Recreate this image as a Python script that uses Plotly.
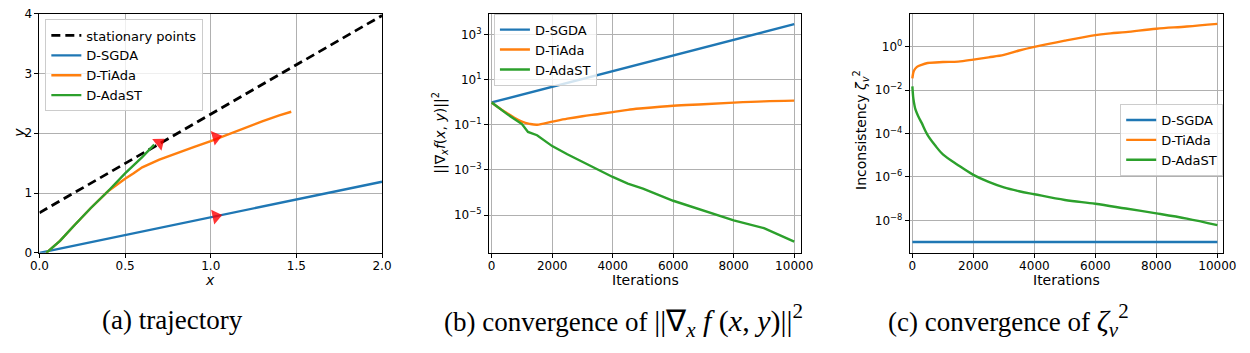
import plotly.graph_objects as go

# ---------------- data ----------------
# (a) trajectory
stat_x = [0.0, 2.0]
stat_y = [0.67, 3.97]
sgda_x = [0.0, 2.0]
sgda_y = [0.0, 1.19]
tiada_x = [0.04, 0.12, 0.2, 0.3, 0.4, 0.45, 0.5, 0.55, 0.6, 0.7, 0.8, 0.9, 1.0, 1.1, 1.2, 1.3, 1.4, 1.47]
tiada_y = [0.0, 0.2, 0.45, 0.75, 1.03, 1.14, 1.24, 1.33, 1.43, 1.56, 1.67, 1.77, 1.87, 1.98, 2.1, 2.2, 2.3, 2.36]
adast_x = [0.04, 0.12, 0.2, 0.3, 0.4, 0.5, 0.6, 0.67]
adast_y = [0.0, 0.2, 0.45, 0.75, 1.03, 1.33, 1.6, 1.81]
arrow_x = [0.70, 1.03, 1.03]
arrow_y = [1.84, 1.93, 0.61]

# (b) gradient norm
b_sgda_it = [0, 10000]
b_sgda = [1.0, 3000.0]
b_tiada_it = [0, 250, 500, 750, 1000, 1250, 1500, 2000, 2500, 3000, 3500, 4000, 4500, 5000, 6000, 7000, 8000, 9000, 10000]
b_tiada = [1.0, 0.56, 0.34, 0.21, 0.14, 0.112, 0.102, 0.14, 0.19, 0.245, 0.30, 0.37, 0.47, 0.55, 0.71, 0.83, 0.98, 1.12, 1.2]
b_adast_it = [0, 500, 1000, 1200, 1500, 2000, 2500, 3000, 3500, 4000, 4500, 5000, 6000, 7000, 8000, 9000, 10000]
b_adast = [1.0, 0.31, 0.11, 0.049, 0.035, 0.0115, 0.005, 0.0023, 0.00105, 0.00049, 0.00025, 0.000148, 4.3e-5, 1.6e-5, 5.8e-6, 2.6e-6, 6.6e-7]

# (c) inconsistency
c_sgda_it = [0, 10000]
c_sgda = [1e-9, 1e-9]
c_tiada_it = [0, 50, 150, 300, 500, 1000, 1500, 2000, 2500, 3000, 3500, 4000, 5000, 6000, 6500, 7000, 8000, 9000, 10000]
c_tiada = [0.035, 0.08, 0.12, 0.15, 0.18, 0.2, 0.21, 0.26, 0.33, 0.43, 0.68, 1.0, 1.95, 3.5, 4.2, 4.8, 6.9, 8.7, 11.5]
c_adast_it = [0, 25, 50, 100, 200, 300, 500, 750, 1000, 1500, 2000, 2500, 3000, 3500, 4000, 5000, 6000, 7000, 8000, 9000, 10000]
c_adast = [1.5e-2, 5e-3, 2.8e-3, 1.3e-3, 6e-4, 3.2e-4, 8.5e-5, 2.8e-5, 1.1e-5, 3.5e-6, 1.25e-6, 5.9e-7, 3.3e-7, 2.2e-7,
           1.6e-7, 8.7e-8, 5.8e-8, 3.5e-8, 2.1e-8, 1.2e-8, 6e-9]

a_xticks = [0.0, 0.5, 1.0, 1.5, 2.0]
a_xlabels = ["0.0", "0.5", "1.0", "1.5", "2.0"]
a_yticks = [0, 1, 2, 3, 4]
it_ticks = [0, 2000, 4000, 6000, 8000, 10000]
it_labels = ["0", "2000", "4000", "6000", "8000", "10000"]
b_yticks = [1e-5, 1e-3, 1e-1, 1e1, 1e3]
b_ylabels = ["10<sup>−5</sup>", "10<sup>−3</sup>", "10<sup>−1</sup>", "10<sup>1</sup>", "10<sup>3</sup>"]
c_yticks = [1e-8, 1e-6, 1e-4, 1e-2, 1e0]
c_ylabels = ["10<sup>−8</sup>", "10<sup>−6</sup>", "10<sup>−4</sup>", "10<sup>−2</sup>", "10<sup>0</sup>"]

BLUE, ORANGE, GREEN = "#1f77b4", "#ff7f0e", "#2ca02c"
LW = 2.4
FONT = "DejaVu Sans"

fig = go.Figure()

# panel a
fig.add_trace(go.Scatter(x=stat_x, y=stat_y, mode="lines", name="stationary points",
                         line=dict(color="black", width=2.8, dash="9px,5px"), legend="legend", xaxis="x", yaxis="y"))
fig.add_trace(go.Scatter(x=sgda_x, y=sgda_y, mode="lines", name="D-SGDA",
                         line=dict(color=BLUE, width=LW), legend="legend", xaxis="x", yaxis="y"))
fig.add_trace(go.Scatter(x=tiada_x, y=tiada_y, mode="lines", name="D-TiAda",
                         line=dict(color=ORANGE, width=LW), legend="legend", xaxis="x", yaxis="y"))
fig.add_trace(go.Scatter(x=adast_x, y=adast_y, mode="lines", name="D-AdaST",
                         line=dict(color=GREEN, width=LW), legend="legend", xaxis="x", yaxis="y"))
fig.add_trace(go.Scatter(x=arrow_x, y=arrow_y, mode="markers", showlegend=False,
                         marker=dict(symbol="triangle-right", size=13, color="rgba(255,0,0,0.8)",
                                     angle=[-38, -15, -12], line=dict(width=0)),
                         xaxis="x", yaxis="y"))

# panel b
fig.add_trace(go.Scatter(x=b_sgda_it, y=b_sgda, mode="lines", name="D-SGDA",
                         line=dict(color=BLUE, width=LW), legend="legend2", xaxis="x2", yaxis="y2"))
fig.add_trace(go.Scatter(x=b_tiada_it, y=b_tiada, mode="lines", name="D-TiAda", line_shape="spline",
                         line=dict(color=ORANGE, width=LW), legend="legend2", xaxis="x2", yaxis="y2"))
fig.add_trace(go.Scatter(x=b_adast_it, y=b_adast, mode="lines", name="D-AdaST",
                         line=dict(color=GREEN, width=LW), legend="legend2", xaxis="x2", yaxis="y2"))

# panel c
fig.add_trace(go.Scatter(x=c_sgda_it, y=c_sgda, mode="lines", name="D-SGDA",
                         line=dict(color=BLUE, width=LW), legend="legend3", xaxis="x3", yaxis="y3"))
fig.add_trace(go.Scatter(x=c_tiada_it, y=c_tiada, mode="lines", name="D-TiAda", line_shape="spline",
                         line=dict(color=ORANGE, width=LW), legend="legend3", xaxis="x3", yaxis="y3"))
fig.add_trace(go.Scatter(x=c_adast_it, y=c_adast, mode="lines", name="D-AdaST", line_shape="spline",
                         line=dict(color=GREEN, width=LW), legend="legend3", xaxis="x3", yaxis="y3"))

W, H = 1250, 353
ytop = 1 - 7 / H
ybot = 1 - 256 / H

axcommon = dict(showline=True, linecolor="black", linewidth=1, mirror=True, ticks="outside",
                ticklen=4, tickcolor="black", showgrid=True, gridcolor="#b0b0b0", gridwidth=0.8,
                zeroline=False, tickfont=dict(family=FONT, size=12, color="black"))
xcommon = dict(ticklabelstandoff=-2, **axcommon)

legcommon = dict(bgcolor="rgba(255,255,255,0.8)", bordercolor="#cccccc", borderwidth=1,
                 font=dict(family=FONT, size=13, color="black"), xanchor="left", yanchor="top",
                 itemwidth=30, tracegroupgap=0)

fig.update_layout(
    width=W, height=H, margin=dict(l=0, r=0, t=0, b=0),
    paper_bgcolor="white", plot_bgcolor="white",
    xaxis=dict(domain=[30 / W, 379 / W], range=[0, 2], tickvals=a_xticks, ticktext=a_xlabels, anchor="y", **xcommon),
    yaxis=dict(domain=[ybot, ytop], range=[0, 4], tickvals=a_yticks, anchor="x", **axcommon),
    xaxis2=dict(domain=[488 / W, 806 / W], range=[-88, 10230], tickvals=it_ticks, ticktext=it_labels,
                anchor="y2", **xcommon),
    yaxis2=dict(domain=[ybot, ytop], type="log", range=[-6.68, 3.94], tickvals=b_yticks, ticktext=b_ylabels,
                anchor="x2", **axcommon),
    xaxis3=dict(domain=[916.7 / W, 1235.7 / W], range=[-84, 10184], tickvals=it_ticks, ticktext=it_labels,
                anchor="y3", **xcommon),
    yaxis3=dict(domain=[ybot, ytop], type="log", range=[-9.5, 1.53], tickvals=c_yticks, ticktext=c_ylabels,
                anchor="x3", **axcommon),
    legend=dict(x=36 / W, y=1 - 13 / H, **legcommon),
    legend2=dict(x=493 / W, y=1 - 7 / H, **legcommon),
    legend3=dict(x=1131 / W, y=1 - 101 / H, **legcommon),
)

def ann(text, x, y, size=12, angle=0, family=FONT):
    fig.add_annotation(text=text, x=x / W, y=1 - y / H, xref="paper", yref="paper", showarrow=False,
                       textangle=angle, font=dict(family=family, size=size, color="black"),
                       xanchor="center", yanchor="middle")

ann("<i>x</i>", 204, 284, 14)
ann("<i>y</i>", 9, 131, 14, -90)
ann("Iterations", 647, 284, 14)
ann("Iterations", 1076, 284, 14)
ann("||∇<sub><i>x</i></sub><i>f</i>(<i>x</i>, <i>y</i>)||<sup>2</sup>", 438, 131, 14, -90)
ann("Inconsistency <i>ζ</i><sub><i>v</i></sub><sup>2</sup>", 867, 128, 14, -90)

SERIF = "Liberation Serif"
ann("(a) trajectory", 166, 326, 27, family=SERIF)
ann("(b) convergence of <span style='font-size:30px'>||∇<sub><i>x</i></sub> <i>f</i> (<i>x</i>, <i>y</i>)||<sup>2</sup></span>",
    625, 326, 27, family=SERIF)
ann("(c) convergence of <span style='font-size:30px'><i>ζ</i><sub><i>v</i></sub><sup>2</sup></span>",
    1017, 326, 27, family=SERIF)

fig.write_html("out.html", config={"displayModeBar": False},
               post_script="document.body.style.margin='0';document.body.style.overflow='hidden';")
